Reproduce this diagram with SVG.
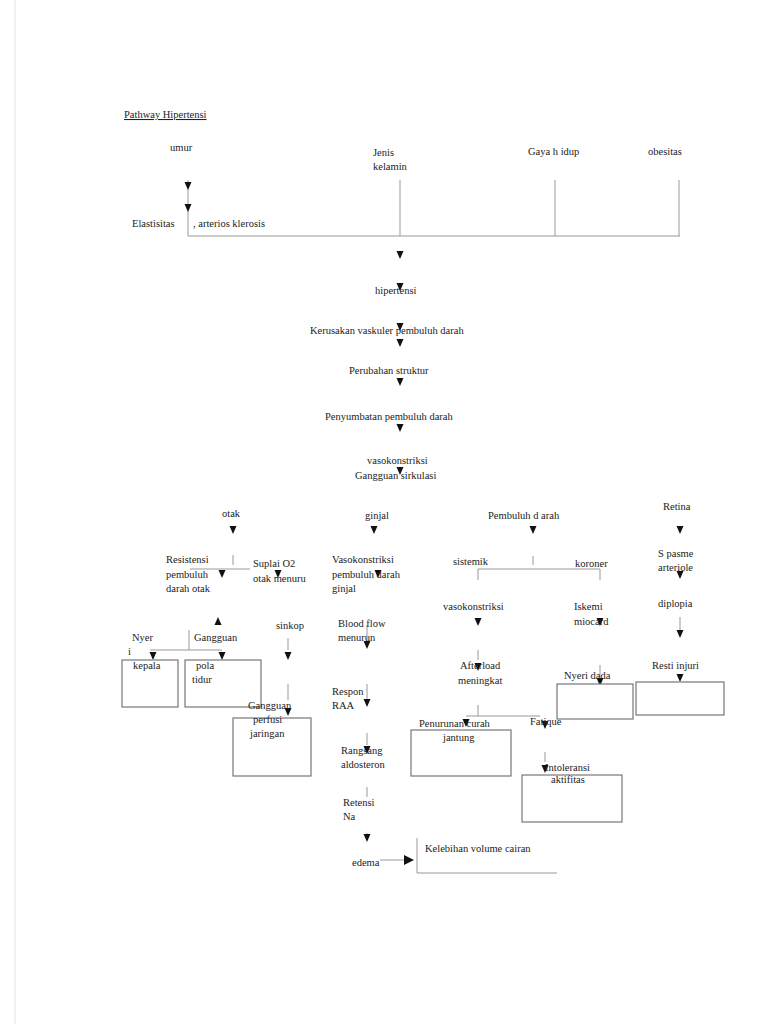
<svg xmlns="http://www.w3.org/2000/svg" width="768" height="1024" viewBox="0 0 768 1024">
<style>
text{font-family:"Liberation Serif","Times New Roman",serif;font-size:10.5px;fill:#222}
.l{stroke:#999;stroke-width:1;fill:none}
.b{stroke:#777;stroke-width:1.2;fill:#fff}
.a{fill:#111}
</style>
<defs><path id="ar" d="M-3.5,-4 L3.5,-4 L0,4 Z" class="a"/></defs>
<rect width="768" height="1024" fill="#fff"/>
<line x1="15" y1="0" x2="15" y2="1024" stroke="#e4e4e4"/>
<text x="124" y="118" font-size="12" text-decoration="underline">Pathway Hipertensi</text>
<g id="connectors">
<line class="l" x1="188" y1="180" x2="188" y2="236"/>
<line class="l" x1="188" y1="236" x2="680" y2="236"/>
<line class="l" x1="400" y1="180" x2="400" y2="236" stroke="#ccc"/>
<line class="l" x1="555" y1="180" x2="555" y2="236"/>
<line class="l" x1="679" y1="180" x2="679" y2="236"/>
<line class="l" x1="233" y1="555" x2="233" y2="565"/>
<line class="l" x1="190" y1="569" x2="250" y2="569" stroke="#ccc"/>
<line class="l" x1="533" y1="556" x2="533" y2="565"/>
<line class="l" x1="478" y1="569" x2="600" y2="569"/>
<line class="l" x1="478" y1="569" x2="478" y2="580"/>
<line class="l" x1="600" y1="569" x2="600" y2="580"/>
<line class="l" x1="150" y1="650" x2="222" y2="650"/>
<line class="l" x1="189" y1="630" x2="189" y2="650"/>
<line class="l" x1="288" y1="638" x2="288" y2="650"/>
<line class="l" x1="288" y1="684" x2="288" y2="700"/>
<line class="l" x1="367" y1="625" x2="367" y2="640"/>
<line class="l" x1="367" y1="684" x2="367" y2="700"/>
<line class="l" x1="367" y1="733" x2="367" y2="745"/>
<line class="l" x1="367" y1="787" x2="367" y2="797"/>
<line class="l" x1="367" y1="833" x2="367" y2="840"/>
<line class="l" x1="478" y1="650" x2="478" y2="660"/>
<line class="l" x1="478" y1="705" x2="478" y2="716"/>
<line class="l" x1="466" y1="716" x2="540" y2="716"/>
<line class="l" x1="600" y1="665" x2="600" y2="680"/>
<line class="l" x1="545" y1="752" x2="545" y2="762"/>
<line class="l" x1="680" y1="617" x2="680" y2="630"/>
<line class="l" x1="380" y1="860" x2="405" y2="860"/>
<use href="#ar" x="188" y="186"/><use href="#ar" x="188" y="208"/>
<use href="#ar" x="400" y="255"/><use href="#ar" x="400" y="287"/>
<use href="#ar" x="400" y="327"/><use href="#ar" x="400" y="343"/>
<use href="#ar" x="400" y="382"/><use href="#ar" x="400" y="428"/>
<use href="#ar" x="400" y="471"/>
<use href="#ar" x="233" y="530"/><use href="#ar" x="374" y="530"/>
<use href="#ar" x="533" y="530"/><use href="#ar" x="680" y="530"/>
<use href="#ar" x="222" y="574"/><use href="#ar" x="278" y="574"/><use href="#ar" x="378" y="574"/>
<use href="#ar" x="218" y="621" transform="rotate(180 218 621)"/>
<use href="#ar" x="153" y="656"/><use href="#ar" x="222" y="656"/>
<use href="#ar" x="288" y="656"/><use href="#ar" x="288" y="712"/>
<use href="#ar" x="367" y="645"/><use href="#ar" x="367" y="703"/>
<use href="#ar" x="367" y="750"/><use href="#ar" x="367" y="838"/>
<use href="#ar" x="478" y="622"/><use href="#ar" x="478" y="667"/>
<use href="#ar" x="600" y="622"/><use href="#ar" x="600" y="682"/>
<use href="#ar" x="466" y="723"/><use href="#ar" x="545" y="725"/><use href="#ar" x="545" y="769"/>
<use href="#ar" x="680" y="575"/><use href="#ar" x="680" y="634"/><use href="#ar" x="680" y="678"/>
<path d="M404,855 L414,860 L404,865 Z" class="a"/>
</g>
<g id="umur"><text x="170" y="151">umur</text></g>
<g id="jenis"><text x="373" y="156">Jenis</text><text x="373" y="170">kelamin</text></g>
<g id="gaya"><text x="528" y="155">Gaya h idup</text></g>
<g id="obesitas"><text x="648" y="155">obesitas</text></g>
<g id="elastisitas"><text x="132" y="227">Elastisitas</text><text x="193" y="227">, arterios klerosis</text></g>
<g id="hipertensi"><text x="375" y="294">hipertensi</text></g>
<g id="kerusakan"><text x="310" y="334">Kerusakan vaskuler pembuluh darah</text></g>
<g id="perubahan"><text x="349" y="374">Perubahan struktur</text></g>
<g id="penyumbatan"><text x="325" y="420">Penyumbatan pembuluh darah</text></g>
<g id="vaso"><text x="367" y="464">vasokonstriksi</text><text x="355" y="479">Gangguan sirkulasi</text></g>
<g id="otak"><text x="222" y="517">otak</text></g>
<g id="ginjal"><text x="365" y="519">ginjal</text></g>
<g id="pembuluh"><text x="488" y="519">Pembuluh d arah</text></g>
<g id="retina"><text x="663" y="510">Retina</text></g>
<g id="resistensi"><text x="166" y="563">Resistensi</text><text x="166" y="578">pembuluh</text><text x="166" y="592">darah otak</text></g>
<g id="suplai"><text x="253" y="567">Suplai O2</text><text x="253" y="582">otak menuru</text></g>
<g id="vasoginjal"><text x="332" y="563">Vasokonstriksi</text><text x="332" y="578">pembuluh darah</text><text x="332" y="592">ginjal</text></g>
<g id="sistemik"><text x="453" y="565">sistemik</text></g>
<g id="koroner"><text x="575" y="567">koroner</text></g>
<g id="spasme"><text x="658" y="557">S pasme</text><text x="658" y="571">arteriole</text></g>
<g id="sinkop"><text x="276" y="629">sinkop</text></g>
<g id="bloodflow"><text x="338" y="627">Blood flow</text><text x="338" y="641">menurun</text></g>
<g id="vaso2"><text x="443" y="610">vasokonstriksi</text></g>
<g id="iskemi"><text x="574" y="610">Iskemi</text><text x="574" y="625">miocard</text></g>
<g id="diplopia"><text x="658" y="607">diplopia</text></g>
<g id="nyeri"><text x="132" y="641">Nyer</text><text x="128" y="655">i</text><rect class="b" x="122" y="660" width="56" height="47"/><text x="133" y="669">kepala</text></g>
<g id="gangguan"><text x="194" y="641">Gangguan</text><rect class="b" x="185" y="660" width="76" height="47"/><text x="196" y="669">pola</text><text x="192" y="683">tidur</text></g>
<g id="afterload"><text x="460" y="669">Afterload</text><text x="458" y="684">meningkat</text></g>
<g id="nyeridada"><rect class="b" x="557" y="684" width="76" height="35"/><text x="564" y="679">Nyeri dada</text></g>
<g id="resti"><rect class="b" x="636" y="682" width="88" height="33"/><text x="652" y="669">Resti injuri</text></g>
<g id="respon"><text x="332" y="695">Respon</text><text x="332" y="709">RAA</text></g>
<g id="perfusi"><rect class="b" x="233" y="718" width="78" height="58"/><text x="248" y="709">Gangguan</text><text x="253" y="723">perfusi</text><text x="250" y="737">jaringan</text></g>
<g id="penurunan"><rect class="b" x="411" y="730" width="100" height="46"/><text x="419" y="727">Penurunan curah</text><text x="443" y="741">jantung</text></g>
<g id="fatique"><text x="530" y="725">Fatique</text></g>
<g id="intoleransi"><rect class="b" x="522" y="775" width="100" height="47"/><text x="545" y="771">Intoleransi</text><text x="551" y="783">aktifitas</text></g>
<g id="rangsang"><text x="341" y="754">Rangsang</text><text x="341" y="768">aldosteron</text></g>
<g id="retensi"><text x="343" y="806">Retensi</text><text x="343" y="820">Na</text></g>
<g id="edema"><text x="352" y="866">edema</text></g>
<g id="kelebihan"><path class="l" d="M417,838 L417,873 L557,873" stroke="#ccc"/><text x="425" y="852">Kelebihan volume cairan</text></g>
</svg>
